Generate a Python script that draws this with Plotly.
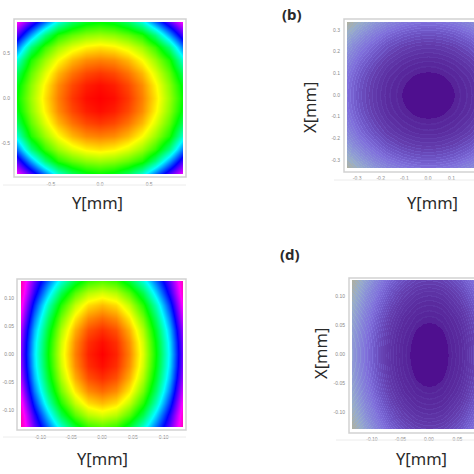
# Four panel beam profile figure: rainbow maps on the left, purple contours on the right
import plotly.graph_objects as go
from plotly.colors import sample_colorscale


def mirror(half):
    # the profiles are symmetric, only one side is listed
    return half + half[-2::-1]


# ── data ─────────────────────────────────────────────────────
x_a = [-0.845, -0.704, -0.563, -0.423, -0.282, -0.141, 0, 0.141, 0.282, 0.423, 0.563, 0.704, 0.845]
y_a = x_a
z_a = [
    [300, 258, 213, 170, 142, 126, 120, 126, 142, 170, 213, 258, 300],
    [258, 201, 148, 113, 97, 87, 83, 87, 97, 113, 148, 201, 258],
    [213, 148, 107, 83, 67, 57, 53, 57, 67, 83, 107, 148, 213],
    [170, 113, 83, 60, 43, 33, 30, 33, 43, 60, 83, 113, 170],
    [142, 97, 67, 43, 27, 17, 13, 17, 27, 43, 67, 97, 142],
    [126, 87, 57, 33, 17, 7, 3, 7, 17, 33, 57, 87, 126],
    [120, 83, 53, 30, 13, 3, 0, 3, 13, 30, 53, 83, 120],
    [126, 87, 57, 33, 17, 7, 3, 7, 17, 33, 57, 87, 126],
    [142, 97, 67, 43, 27, 17, 13, 17, 27, 43, 67, 97, 142],
    [170, 113, 83, 60, 43, 33, 30, 33, 43, 60, 83, 113, 170],
    [213, 148, 107, 83, 67, 57, 53, 57, 67, 83, 107, 148, 213],
    [258, 201, 148, 113, 97, 87, 83, 87, 97, 113, 148, 201, 258],
    [300, 258, 213, 170, 142, 126, 120, 126, 142, 170, 213, 258, 300],
]

x_b = [-0.343, -0.286, -0.229, -0.172, -0.137, -0.110, -0.082, -0.055, -0.027, 0,
       0.027, 0.055, 0.082, 0.110, 0.137, 0.172, 0.229, 0.286, 0.343]
y_b = [-0.336, -0.28, -0.224, -0.168, -0.134, -0.108, -0.081, -0.054, -0.027, 0,
       0.027, 0.054, 0.081, 0.108, 0.134, 0.168, 0.224, 0.28, 0.336]
b_half = [
    [200, 169.4, 144.5, 125, 116, 110.2, 105.8, 102.6, 100.6, 100],
    [169.4, 138.8, 113.9, 94.4, 85.4, 79.6, 75.2, 72, 70, 69.4],
    [144.5, 113.9, 89, 69.5, 60.5, 54.7, 50.3, 47.1, 45.1, 44.5],
    [125, 94.4, 69.5, 50, 41, 35.2, 30.8, 27.6, 25.6, 25],
    [116, 85.4, 60.5, 41, 32, 26.2, 21.8, 18.6, 16.6, 16],
    [110.2, 79.6, 54.7, 35.2, 26.2, 20.4, 16, 12.8, 10.8, 10.2],
    [105.8, 75.2, 50.3, 30.8, 21.8, 16, 11.6, 8.4, 6.4, 5.8],
    [102.6, 72, 47.1, 27.6, 18.6, 12.8, 8.4, 5.2, 3.2, 2.6],
    [100.6, 70, 45.1, 25.6, 16.6, 10.8, 6.4, 3.2, 1.2, 0.6],
    [100, 69.4, 44.5, 25, 16, 10.2, 5.8, 2.6, 0.6, 0],
]
z_b = mirror([mirror(row) for row in b_half])

x_c = [-0.1315, -0.11, -0.088, -0.066, -0.044, -0.022, 0, 0.022, 0.044, 0.066, 0.088, 0.11, 0.1315]
y_c = [-0.13, -0.108, -0.087, -0.065, -0.043, -0.022, 0, 0.022, 0.043, 0.065, 0.087, 0.108, 0.13]
z_c = [
    [320, 265, 215, 170, 132, 108, 100, 108, 132, 170, 215, 265, 320],
    [315, 250, 190, 138, 99, 77, 69, 77, 99, 138, 190, 250, 315],
    [305, 230, 164, 112, 74, 52, 44, 52, 74, 112, 164, 230, 305],
    [293, 212, 145, 93, 55, 33, 25, 33, 55, 93, 145, 212, 293],
    [280, 198, 131, 79, 41, 19, 11, 19, 41, 79, 131, 198, 280],
    [273, 190, 123, 71, 33, 11, 3, 11, 33, 71, 123, 190, 273],
    [270, 187, 120, 68, 30, 8, 0, 8, 30, 68, 120, 187, 270],
    [273, 190, 123, 71, 33, 11, 3, 11, 33, 71, 123, 190, 273],
    [280, 198, 131, 79, 41, 19, 11, 19, 41, 79, 131, 198, 280],
    [293, 212, 145, 93, 55, 33, 25, 33, 55, 93, 145, 212, 293],
    [305, 230, 164, 112, 74, 52, 44, 52, 74, 112, 164, 230, 305],
    [315, 250, 190, 138, 99, 77, 69, 77, 99, 138, 190, 250, 315],
    [320, 265, 215, 170, 132, 108, 100, 108, 132, 170, 215, 265, 320],
]

x_d = [-0.135, -0.1125, -0.09, -0.0675, -0.054, -0.043, -0.032, -0.022, -0.011, 0,
       0.011, 0.022, 0.032, 0.043, 0.054, 0.0675, 0.09, 0.1125, 0.135]
y_d = [-0.128, -0.1066, -0.0854, -0.064, -0.0512, -0.0384, -0.0256, -0.0128, 0,
       0.0128, 0.0256, 0.0384, 0.0512, 0.064, 0.0854, 0.1066, 0.128]
d_half = [
    [215, 166, 126.2, 95, 80.6, 71.4, 64.2, 59.1, 56, 55],
    [198.2, 149.2, 109.4, 78.2, 63.8, 54.6, 47.4, 42.3, 39.2, 38.2],
    [184.5, 135.5, 95.7, 64.5, 50.1, 40.9, 33.7, 28.6, 25.5, 24.5],
    [173.8, 124.8, 85, 53.8, 39.4, 30.2, 23, 17.9, 14.8, 13.8],
    [168.8, 119.8, 80, 48.8, 34.4, 25.2, 18, 12.9, 9.8, 8.8],
    [165, 116, 76.2, 45, 30.6, 21.4, 14.2, 9.1, 6, 5],
    [162.2, 113.2, 73.4, 42.2, 27.8, 18.6, 11.4, 6.3, 3.2, 2.2],
    [160.6, 111.6, 71.8, 40.6, 26.2, 17, 9.8, 4.7, 1.6, 0.6],
    [160, 111, 71.2, 40, 25.6, 16.4, 9.2, 4.1, 1, 0],
]
z_d = mirror([mirror(row) for row in d_half])

ticks_a_x = [-0.5, 0, 0.5]
ticks_a_y = [-0.5, 0, 0.5]
labels_a = ["-0.5", "0.0", "0.5"]
ticks_b_x = [-0.3, -0.2, -0.1, 0, 0.1]
labels_b_x = ["-0.3", "-0.2", "-0.1", "0.0", "0.1"]
ticks_b_y = [-0.3, -0.2, -0.1, 0, 0.1, 0.2, 0.3]
labels_b_y = ["-0.3", "-0.2", "-0.1", "0.0", "0.1", "0.2", "0.3"]
ticks_c = [-0.10, -0.05, 0, 0.05, 0.10]
labels_c = ["-0.10", "-0.05", "0.00", "0.05", "0.10"]
ticks_d_x = [-0.10, -0.05, 0, 0.05]
labels_d_x = ["-0.10", "-0.05", "0.00", "0.05"]

# ── colours ──────────────────────────────────────────────────
rainbow = [
    [0, "#ff0000"], [60 / 330, "#ffff00"], [120 / 330, "#00ff00"], [180 / 330, "#00ffff"],
    [240 / 330, "#0000ff"], [300 / 330, "#ff00ff"], [1, "#ff0090"],
]
purple = [
    [0, "#541e95"], [0.125, "#5a2c9f"], [0.25, "#643eae"], [0.38, "#7058c8"], [0.5, "#8070dc"],
    [0.7, "#8c94d8"], [0.85, "#98aecb"], [1, "#aeb0a0"],
]
CORE = "#4f0f8f"

SIZE = 474
FRAME = "#d2d2d2"
TICK_FONT = dict(family="Liberation Sans", size=5, color="#8a8a8a")


def banded(first, step, zmax):
    # hard edged colour steps, one per contour band, with a pale rim on each band
    scale = [[0, CORE], [first / zmax, CORE]]
    lo = first
    while lo < zmax:
        hi = min(lo + step, zmax)
        col = sample_colorscale(purple, [lo / zmax])[0]
        rim = sample_colorscale(purple, [min(1, lo / zmax + 0.08)])[0]
        cut = lo + 0.75 * (hi - lo)
        scale += [[lo / zmax, col], [cut / zmax, col], [cut / zmax, rim], [hi / zmax, rim]]
        lo = hi
    return scale


def axis_style(domain, rng, tickvals, ticktext):
    return dict(
        domain=domain, range=rng, tickmode="array", tickvals=tickvals, ticktext=ticktext,
        showgrid=False, zeroline=False, showline=False,
        ticks="outside", ticklen=5, tickcolor="rgba(0,0,0,0)", tickfont=TICK_FONT,
    )


def px_x(a, b):
    return [a / SIZE, b / SIZE]


def px_y(top, bottom):
    return [1 - bottom / SIZE, 1 - top / SIZE]


fig = go.Figure()

fig.add_trace(go.Heatmap(x=x_a, y=y_a, z=z_a, zmin=0, zmax=330, colorscale=rainbow,
                         zsmooth="best", showscale=False, xaxis="x", yaxis="y"))
fig.add_trace(go.Heatmap(x=x_b, y=y_b, z=z_b, zmin=0, zmax=200, colorscale=banded(10.5, 6.4, 200),
                         zsmooth="best", showscale=False, xaxis="x2", yaxis="y2"))
fig.add_trace(go.Heatmap(x=x_c, y=y_c, z=z_c, zmin=0, zmax=330, colorscale=rainbow,
                         zsmooth="best", showscale=False, xaxis="x3", yaxis="y3"))
fig.add_trace(go.Heatmap(x=x_d, y=y_d, z=z_d, zmin=0, zmax=215, colorscale=banded(10.5, 5, 215),
                         zsmooth="best", showscale=False, xaxis="x4", yaxis="y4"))

fig.update_layout(
    width=SIZE, height=SIZE, margin=dict(l=0, r=0, t=0, b=0),
    paper_bgcolor="white", plot_bgcolor="white", showlegend=False,
    xaxis=dict(axis_style(px_x(17, 183), [-0.845, 0.845], ticks_a_x, labels_a), anchor="y"),
    yaxis=dict(axis_style(px_y(22, 174), [-0.845, 0.845], ticks_a_y, labels_a), anchor="x"),
    xaxis2=dict(axis_style(px_x(347, 474), [-0.343, 0.195], ticks_b_x, labels_b_x), anchor="y2"),
    yaxis2=dict(axis_style(px_y(22, 168), [-0.336, 0.336], ticks_b_y, labels_b_y), anchor="x2"),
    xaxis3=dict(axis_style(px_x(21, 183), [-0.1315, 0.1315], ticks_c, labels_c), anchor="y3"),
    yaxis3=dict(axis_style(px_y(281, 427), [-0.13, 0.13], ticks_c, labels_c), anchor="x3"),
    xaxis4=dict(axis_style(px_x(352, 474), [-0.135, 0.079], ticks_d_x, labels_d_x), anchor="y4"),
    yaxis4=dict(axis_style(px_y(280, 429), [-0.128, 0.128], ticks_c, labels_c), anchor="x4"),
)


def note(text, x, y, size, bold=False, angle=0):
    fig.add_annotation(
        text=f"<b>{text}</b>" if bold else text, x=x / SIZE, y=1 - y / SIZE,
        xref="paper", yref="paper", showarrow=False, textangle=angle,
        xanchor="center", yanchor="middle",
        font=dict(family="Noto Sans", size=size, color="#2a2a2a"),
    )


note("Y[mm]", 97, 202, 16.5)
note("Y[mm]", 432, 202, 16.5)
note("Y[mm]", 102, 458, 16.5)
note("Y[mm]", 421, 458, 16.5)
note("X[mm]", 309, 108, 16.5, angle=-90)
note("X[mm]", 320, 354, 16.5, angle=-90)
note("(b)", 292, 14, 15, bold=True)
note("(d)", 290, 254, 15, bold=True)


def frame_path(x0, x1, y0, y1, closed):
    # outer box sits a few pixels off the coloured area; the right panels run off the page
    left = x0 / SIZE
    right = x1 / SIZE
    top = 1 - y0 / SIZE
    bottom = 1 - y1 / SIZE
    if closed:
        return f"M {left} {bottom} L {left} {top} L {right} {top} L {right} {bottom} Z"
    return f"M {right} {top} L {left} {top} L {left} {bottom} L {right} {bottom}"


for box in [(14, 186, 19, 177, True), (344, 476, 19, 172, False),
            (17, 186, 279, 430, True), (349, 476, 278, 433, False)]:
    fig.add_shape(type="path", xref="paper", yref="paper", path=frame_path(*box),
                  line=dict(color=FRAME, width=1.5))

# faint rules left under each panel
for x0, x1, y in [(3, 186, 185), (334, 474, 180), (3, 186, 437), (336, 474, 440)]:
    fig.add_shape(type="line", xref="paper", yref="paper", x0=x0 / SIZE, x1=x1 / SIZE,
                  y0=1 - y / SIZE, y1=1 - y / SIZE, line=dict(color="#ececec", width=1))

fig.write_html("out.html", config={"displayModeBar": False},
               post_script="document.body.style.margin='0';")
